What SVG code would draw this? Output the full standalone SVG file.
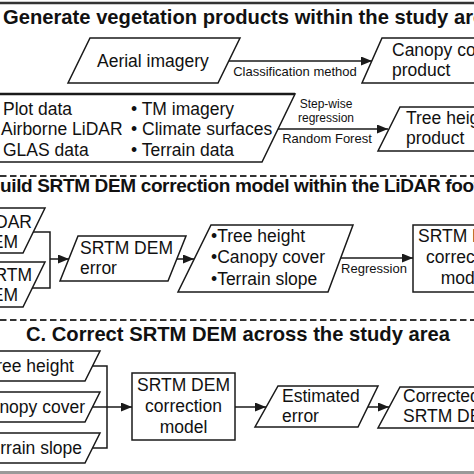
<svg xmlns="http://www.w3.org/2000/svg" width="474" height="474" viewBox="0 0 474 474">
<style>
.box{fill:#fff;stroke:#1a1a1a;stroke-width:1.5}
.t{font-family:"Liberation Sans",Arial,sans-serif;font-size:17.5px;fill:#111}
.s{font-family:"Liberation Sans",Arial,sans-serif;font-size:13px;fill:#111}
.h{font-family:"Liberation Sans",Arial,sans-serif;font-size:20.2px;font-weight:bold;fill:#111}
.c{fill:none;stroke:#1a1a1a;stroke-width:1.5}
.d{stroke:#333;stroke-width:2;stroke-dasharray:6.5 3.5}
</style>
<defs>
<marker id="ah" markerUnits="userSpaceOnUse" markerWidth="11" markerHeight="9" refX="11" refY="4.5" orient="auto">
<path d="M0,0 L11,4.5 L0,9 z" fill="#1a1a1a"/>
</marker>
</defs>
<rect width="474" height="474" fill="#fff"/>
<line x1="0" y1="3" x2="474" y2="3" stroke="#333" stroke-width="2.5"/>
<text class="h" x="3" y="24">Generate vegetation products within the study area</text>

<g id="aerial">
<polygon class="box" points="90,38 240,38 218,83 68,83"/>
<text class="t" x="97" y="67">Aerial imagery</text>
</g>
<g id="canopy-product">
<polygon class="box" points="382,38 520,38 500,83 362,83"/>
<text class="t" x="392" y="56">Canopy cover</text>
<text class="t" x="392" y="76">product</text>
</g>
<g id="inputs-a">
<polygon class="box" points="-20,94 295,94 262,162 -20,162"/>
<line x1="-20" y1="94" x2="295" y2="94" stroke="#1a1a1a" stroke-width="2.5"/>
<text class="t" x="3" y="115">Plot data</text>
<text class="t" x="1" y="135">Airborne LiDAR</text>
<text class="t" x="3" y="156">GLAS data</text>
<text class="t" x="131" y="115">• TM imagery</text>
<text class="t" x="131" y="135">• Climate surfaces</text>
<text class="t" x="131" y="156">• Terrain data</text>
</g>
<g id="tree-product">
<polygon class="box" points="400,107 520,107 498,151 378,151"/>
<text class="t" x="406" y="124">Tree height</text>
<text class="t" x="406" y="144">product</text>
</g>

<line class="d" x1="0" y1="176" x2="474" y2="176"/>
<text class="h" x="0" y="192" style="font-size:19px" textLength="480" lengthAdjust="spacing">uild SRTM DEM correction model within the LiDAR foot</text>

<g id="lidar-dem">
<polygon class="box" points="-40,208 45,208 23,253 -40,253"/>
<text class="t" x="32" y="228" text-anchor="end">LiDAR</text>
<text class="t" x="18" y="248" text-anchor="end">DEM</text>
</g>
<g id="srtm-dem">
<polygon class="box" points="-40,262 45,262 23,307 -40,307"/>
<text class="t" x="32" y="281" text-anchor="end">SRTM</text>
<text class="t" x="18" y="301" text-anchor="end">DEM</text>
</g>
<g id="srtm-error">
<polygon class="box" points="78,236 186,236 168,281 60,281"/>
<text class="t" x="80" y="254">SRTM DEM</text>
<text class="t" x="80" y="274">error</text>
</g>
<g id="vars-b">
<polygon class="box" points="211,225 353,225 328,292 178,292"/>
<text class="t" x="211" y="242">•Tree height</text>
<text class="t" x="211" y="263">•Canopy cover</text>
<text class="t" x="211" y="285">•Terrain slope</text>
</g>
<g id="model-b">
<rect class="box" x="413" y="225" width="103" height="67"/>
<text class="t" x="464.5" y="242" text-anchor="middle">SRTM DEM</text>
<text class="t" x="464.5" y="263" text-anchor="middle">correction</text>
<text class="t" x="464.5" y="284" text-anchor="middle">model</text>
</g>

<line class="d" x1="0" y1="320" x2="474" y2="320"/>
<text class="h" x="238" y="341" text-anchor="middle">C. Correct SRTM DEM across the study area</text>

<g id="tree-c">
<polygon class="box" points="-40,351 100,351 85,381 -40,381"/>
<text class="t" x="74" y="372" text-anchor="end">Tree height</text>
</g>
<g id="canopy-c">
<polygon class="box" points="-40,392 100,392 85,422 -40,422"/>
<text class="t" x="85" y="413" text-anchor="end">Canopy cover</text>
</g>
<g id="slope-c">
<polygon class="box" points="-40,433 100,433 85,463 -40,463"/>
<text class="t" x="82" y="454" text-anchor="end">Terrain slope</text>
</g>
<g id="model-c">
<rect class="box" x="132" y="373" width="103" height="67"/>
<text class="t" x="183.5" y="391" text-anchor="middle">SRTM DEM</text>
<text class="t" x="183.5" y="412" text-anchor="middle">correction</text>
<text class="t" x="183.5" y="433" text-anchor="middle">model</text>
</g>
<g id="est-error">
<polygon class="box" points="278,386 378,386 358,427 255,427"/>
<text class="t" x="282" y="402">Estimated</text>
<text class="t" x="282" y="422">error</text>
</g>
<g id="corrected">
<polygon class="box" points="400,387 520,387 498,428 378,428"/>
<text class="t" x="403" y="402">Corrected</text>
<text class="t" x="403" y="422">SRTM DEM</text>
</g>

<rect x="0" y="471" width="474" height="3" fill="#999"/>

<g id="connectors">
<line class="c" x1="229" y1="61" x2="372" y2="61" marker-end="url(#ah)"/>
<text class="s" x="295" y="76" text-anchor="middle">Classification method</text>
<line class="c" x1="278" y1="129" x2="388" y2="129" marker-end="url(#ah)"/>
<text class="s" x="326" y="108" text-anchor="middle" style="font-size:12px">Step-wise</text>
<text class="s" x="326" y="122" text-anchor="middle" style="font-size:12px">regression</text>
<text class="s" x="327" y="143" text-anchor="middle">Random Forest</text>
<polyline class="c" points="33,232 50,232 50,288 32,288"/>
<line class="c" x1="50" y1="259" x2="69" y2="259" marker-end="url(#ah)"/>
<line class="c" x1="177" y1="259" x2="194" y2="259" marker-end="url(#ah)"/>
<line class="c" x1="341" y1="258" x2="413" y2="258" marker-end="url(#ah)"/>
<text class="s" x="374" y="273" text-anchor="middle">Regression</text>
<polyline class="c" points="92.5,366 107,366 107,448 92.5,448"/>
<line class="c" x1="92.5" y1="407" x2="132" y2="407" marker-end="url(#ah)"/>
<line class="c" x1="235" y1="407" x2="266" y2="407" marker-end="url(#ah)"/>
<line class="c" x1="368" y1="407" x2="389" y2="407" marker-end="url(#ah)"/>
</g>
</svg>
